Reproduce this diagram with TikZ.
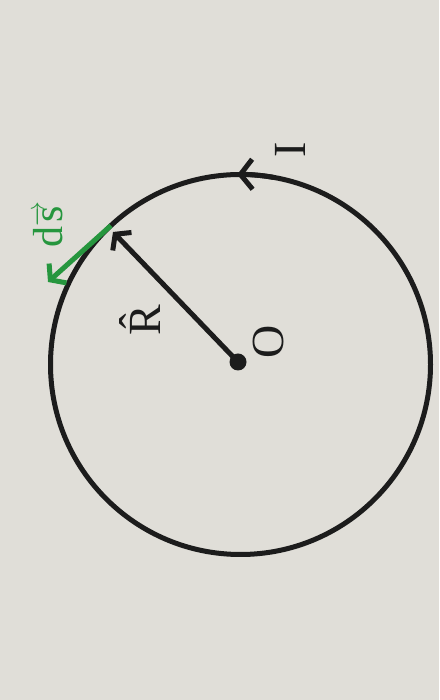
\documentclass[tikz,border=0pt]{standalone}
\usepackage{fontspec}
\setmainfont{Liberation Serif}
\usetikzlibrary{arrows.meta,calc}
\definecolor{paper}{RGB}{224,222,216}
\definecolor{vecgreen}{RGB}{38,150,62}
\definecolor{ink}{RGB}{28,28,28}
\begin{document}
\begin{tikzpicture}[x=1pt,y=1pt,
  wire/.style={draw=ink,line width=5pt},
  barb/.style={-{Straight Barb[length=10pt,width=26pt,line join=miter]}},
  lbl/.style={inner sep=0pt,rotate=90,font=\fontsize{46}{48}\selectfont,text=ink}]
\fill[paper] (0,0) rectangle (439,700);
\useasboundingbox (0,0) rectangle (439,700);
\node[wire,circle,minimum size=380pt,inner sep=0pt,outer sep=0pt] (loop) at (240.5,335.5) {};
\node[circle,fill=ink,minimum size=17pt,inner sep=0pt] (O) at (238,338) {};
\coordinate (Rtip) at (113,468);
\draw[wire,barb] (O.center) -- (Rtip);
\coordinate (dsend) at (48,418);
\draw[draw=vecgreen,line width=5pt,barb] (loop.133) -- (dsend);
\draw[wire,-{Straight Barb[length=12pt,width=30pt,line join=miter]}] (loop.80) arc[start angle=80,end angle=91,radius=190pt];
\node[lbl,text=vecgreen,font=\fontsize{42}{44}\selectfont] (dslbl) at (48,475) {d$\overrightarrow{\mathrm{s}}$};
\node[lbl] (Rlbl) at (140,380) {\^{R}};
\node[lbl] (Olbl) at (268,358) {O};
\node[lbl] (Ilbl) at (290,550) {I};
\end{tikzpicture}
\end{document}
